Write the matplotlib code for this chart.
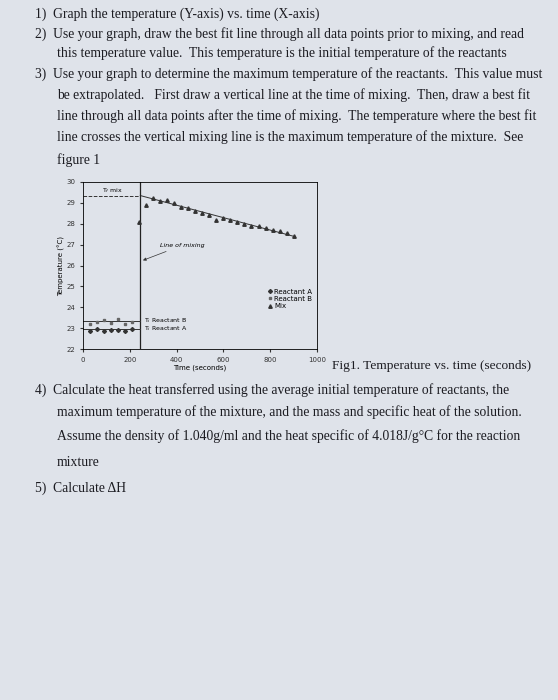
import matplotlib
matplotlib.use("Agg")
import matplotlib.pyplot as plt

tA = [30, 60, 90, 120, 150, 180, 210]
react_a = [22.85, 22.95, 22.85, 22.9, 22.9, 22.85, 22.95]
react_b = [23.2, 23.3, 23.4, 23.25, 23.45, 23.2, 23.3]
t_mix = [240, 270, 300, 330, 360, 390, 420, 450, 480, 510, 540, 570, 600, 630, 660,
         690, 720, 750, 780, 810, 840, 870, 900]
mix = [28.08, 28.9, 29.23, 29.07, 29.15, 28.99, 28.8, 28.75, 28.6, 28.5, 28.4, 28.16,
       28.27, 28.16, 28.06, 28.0, 27.9, 27.87, 27.8, 27.7, 27.63, 27.55, 27.42]
t_mixing = 245
tmax = 29.35
fit_end = 27.4
ta_line, tb_line = 22.95, 23.35

W, H = 558, 700
fig = plt.figure(figsize=(W/100, H/100), dpi=100)
fig.patch.set_facecolor("#dfe3ea")

serif = ["Liberation Serif", "DejaVu Serif"]
def T(x, y, s, fs=9.8):
    fig.text(x/W, 1-y/H, s, family=serif, fontsize=fs, color="#1c1c22", va="center")

lines = [
    (35, 14, "1)  Graph the temperature (Y-axis) vs. time (X-axis)"),
    (35, 34, "2)  Use your graph, draw the best fit line through all data points prior to mixing, and read"),
    (57, 53, "this temperature value.  This temperature is the initial temperature of the reactants"),
    (35, 74, "3)  Use your graph to determine the maximum temperature of the reactants.  This value must"),
    (57, 95, "be extrapolated.   First draw a vertical line at the time of mixing.  Then, draw a best fit"),
    (57, 116, "line through all data points after the time of mixing.  The temperature where the best fit"),
    (57, 137, "line crosses the vertical mixing line is the maximum temperature of the mixture.  See"),
    (57, 160, "figure 1"),
    (35, 390, "4)  Calculate the heat transferred using the average initial temperature of reactants, the"),
    (57, 412, "maximum temperature of the mixture, and the mass and specific heat of the solution."),
    (57, 436, "Assume the density of 1.040g/ml and the heat specific of 4.018J/g°C for the reaction"),
    (57, 463, "mixture"),
    (35, 488, "5)  Calculate ΔH"),
]
for x, y, s in lines:
    T(x, y, s)
T(332, 366, "Fig1. Temperature vs. time (seconds)", 9.6)

ax = fig.add_axes([83/W, 1-349/H, 234/W, 167/H])
ax.set_facecolor("#dfe3ea")
ax.set_xlim(0, 1000)
ax.set_ylim(22, 30)
ax.set_xticks([0, 200, 400, 600, 800, 1000])
ax.set_yticks(range(22, 31))
ax.tick_params(labelsize=5, length=2, colors="#333")
for s in ax.spines.values():
    s.set_linewidth(0.6)
ax.set_xlabel("Time (seconds)", fontsize=5, labelpad=1)
ax.set_ylabel("Temperature (°C)", fontsize=5, labelpad=1)

ax.plot([0, t_mixing], [tmax, tmax], "--", color="#333", lw=0.7)
ax.plot([t_mixing, 900], [tmax, fit_end], "-", color="#333", lw=0.7)
ax.axvline(t_mixing, color="#222", lw=0.9)
ax.plot([0, t_mixing], [tb_line, tb_line], color="#333", lw=0.7)
ax.plot([0, t_mixing], [ta_line, ta_line], color="#333", lw=0.7)

ax.plot(tA, react_a, "D", ms=2, color="#333", ls="none", label="Reactant A")
ax.plot(tA, react_b, "s", ms=2, color="#666", ls="none", label="Reactant B")
ax.plot(t_mix, mix, "^", ms=2.5, color="#333", ls="none", label="Mix")
ax.legend(loc="center right", bbox_to_anchor=(1.0, 0.3), fontsize=5, frameon=False,
          handletextpad=0.2, borderpad=0.2, labelspacing=0.2, handlelength=0.8)

ax.text(80, 29.5, "T$_f$ mix", fontsize=4.5)
ax.text(260, 23.3, "T$_i$ Reactant B", fontsize=4.5)
ax.text(260, 22.9, "T$_i$ Reactant A", fontsize=4.5)
ax.annotate("Line of mixing", xy=(t_mixing, 26.2), xytext=(330, 26.9), fontsize=4.5,
            style="italic", arrowprops=dict(arrowstyle="-|>", lw=0.5, color="#333"))

fig.savefig("out.png", dpi=100, facecolor=fig.get_facecolor())
